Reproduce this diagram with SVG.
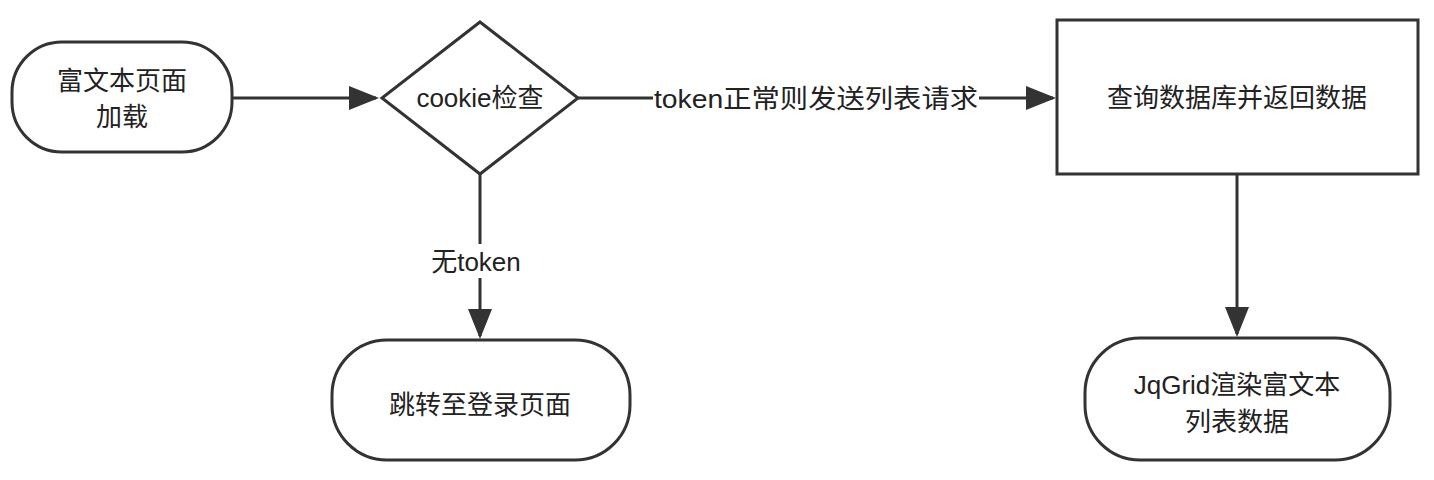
<svg xmlns="http://www.w3.org/2000/svg" width="1434" height="480" viewBox="0 0 1434 480">
<style>
.s{fill:#fff;stroke:#333;stroke-width:3}
.t{font-family:"Liberation Sans","Noto Sans CJK SC",sans-serif;font-size:26px;fill:#222;text-anchor:middle;dominant-baseline:central}
.c{fill:none;stroke:#333;stroke-width:3}
</style>
<defs><marker id="a" markerWidth="10" markerHeight="8" refX="9" refY="4" orient="auto" markerUnits="strokeWidth"><path d="M0,0L10,4L0,8Z" fill="#333"/></marker></defs>
<rect width="1434" height="480" fill="#fff"/>
<g id="connectors">
<path class="c" d="M232,98H376" marker-end="url(#a)"/>
<path class="c" d="M578,98H1053" marker-end="url(#a)"/>
<path class="c" d="M480,174V336" marker-end="url(#a)"/>
<path class="c" d="M1237,174V334" marker-end="url(#a)"/>
<rect x="653" y="82" width="326" height="34" fill="#fff"/>
<text class="t" x="816" y="99" textLength="324" lengthAdjust="spacingAndGlyphs">token正常则发送列表请求</text>
<rect x="418" y="244" width="116" height="34" fill="#fff"/>
<text class="t" x="476" y="262">无token</text>
</g>
<g id="n1"><rect class="s" x="12" y="42" width="220" height="110" rx="50"/><text class="t" x="122" y="81">富文本页面</text><text class="t" x="122" y="117">加载</text></g>
<g id="n2"><path class="s" d="M480,22L578,98L480,174L382,98Z"/><text class="t" x="480" y="98">cookie检查</text></g>
<g id="n3"><rect class="s" x="1057" y="20" width="361" height="154"/><text class="t" x="1237" y="98">查询数据库并返回数据</text></g>
<g id="n4"><rect class="s" x="332" y="340" width="298" height="120" rx="55"/><text class="t" x="480" y="405">跳转至登录页面</text></g>
<g id="n5"><rect class="s" x="1085" y="338" width="305" height="122" rx="55"/><text class="t" x="1237" y="385">JqGrid渲染富文本</text><text class="t" x="1237" y="422">列表数据</text></g>
</svg>
